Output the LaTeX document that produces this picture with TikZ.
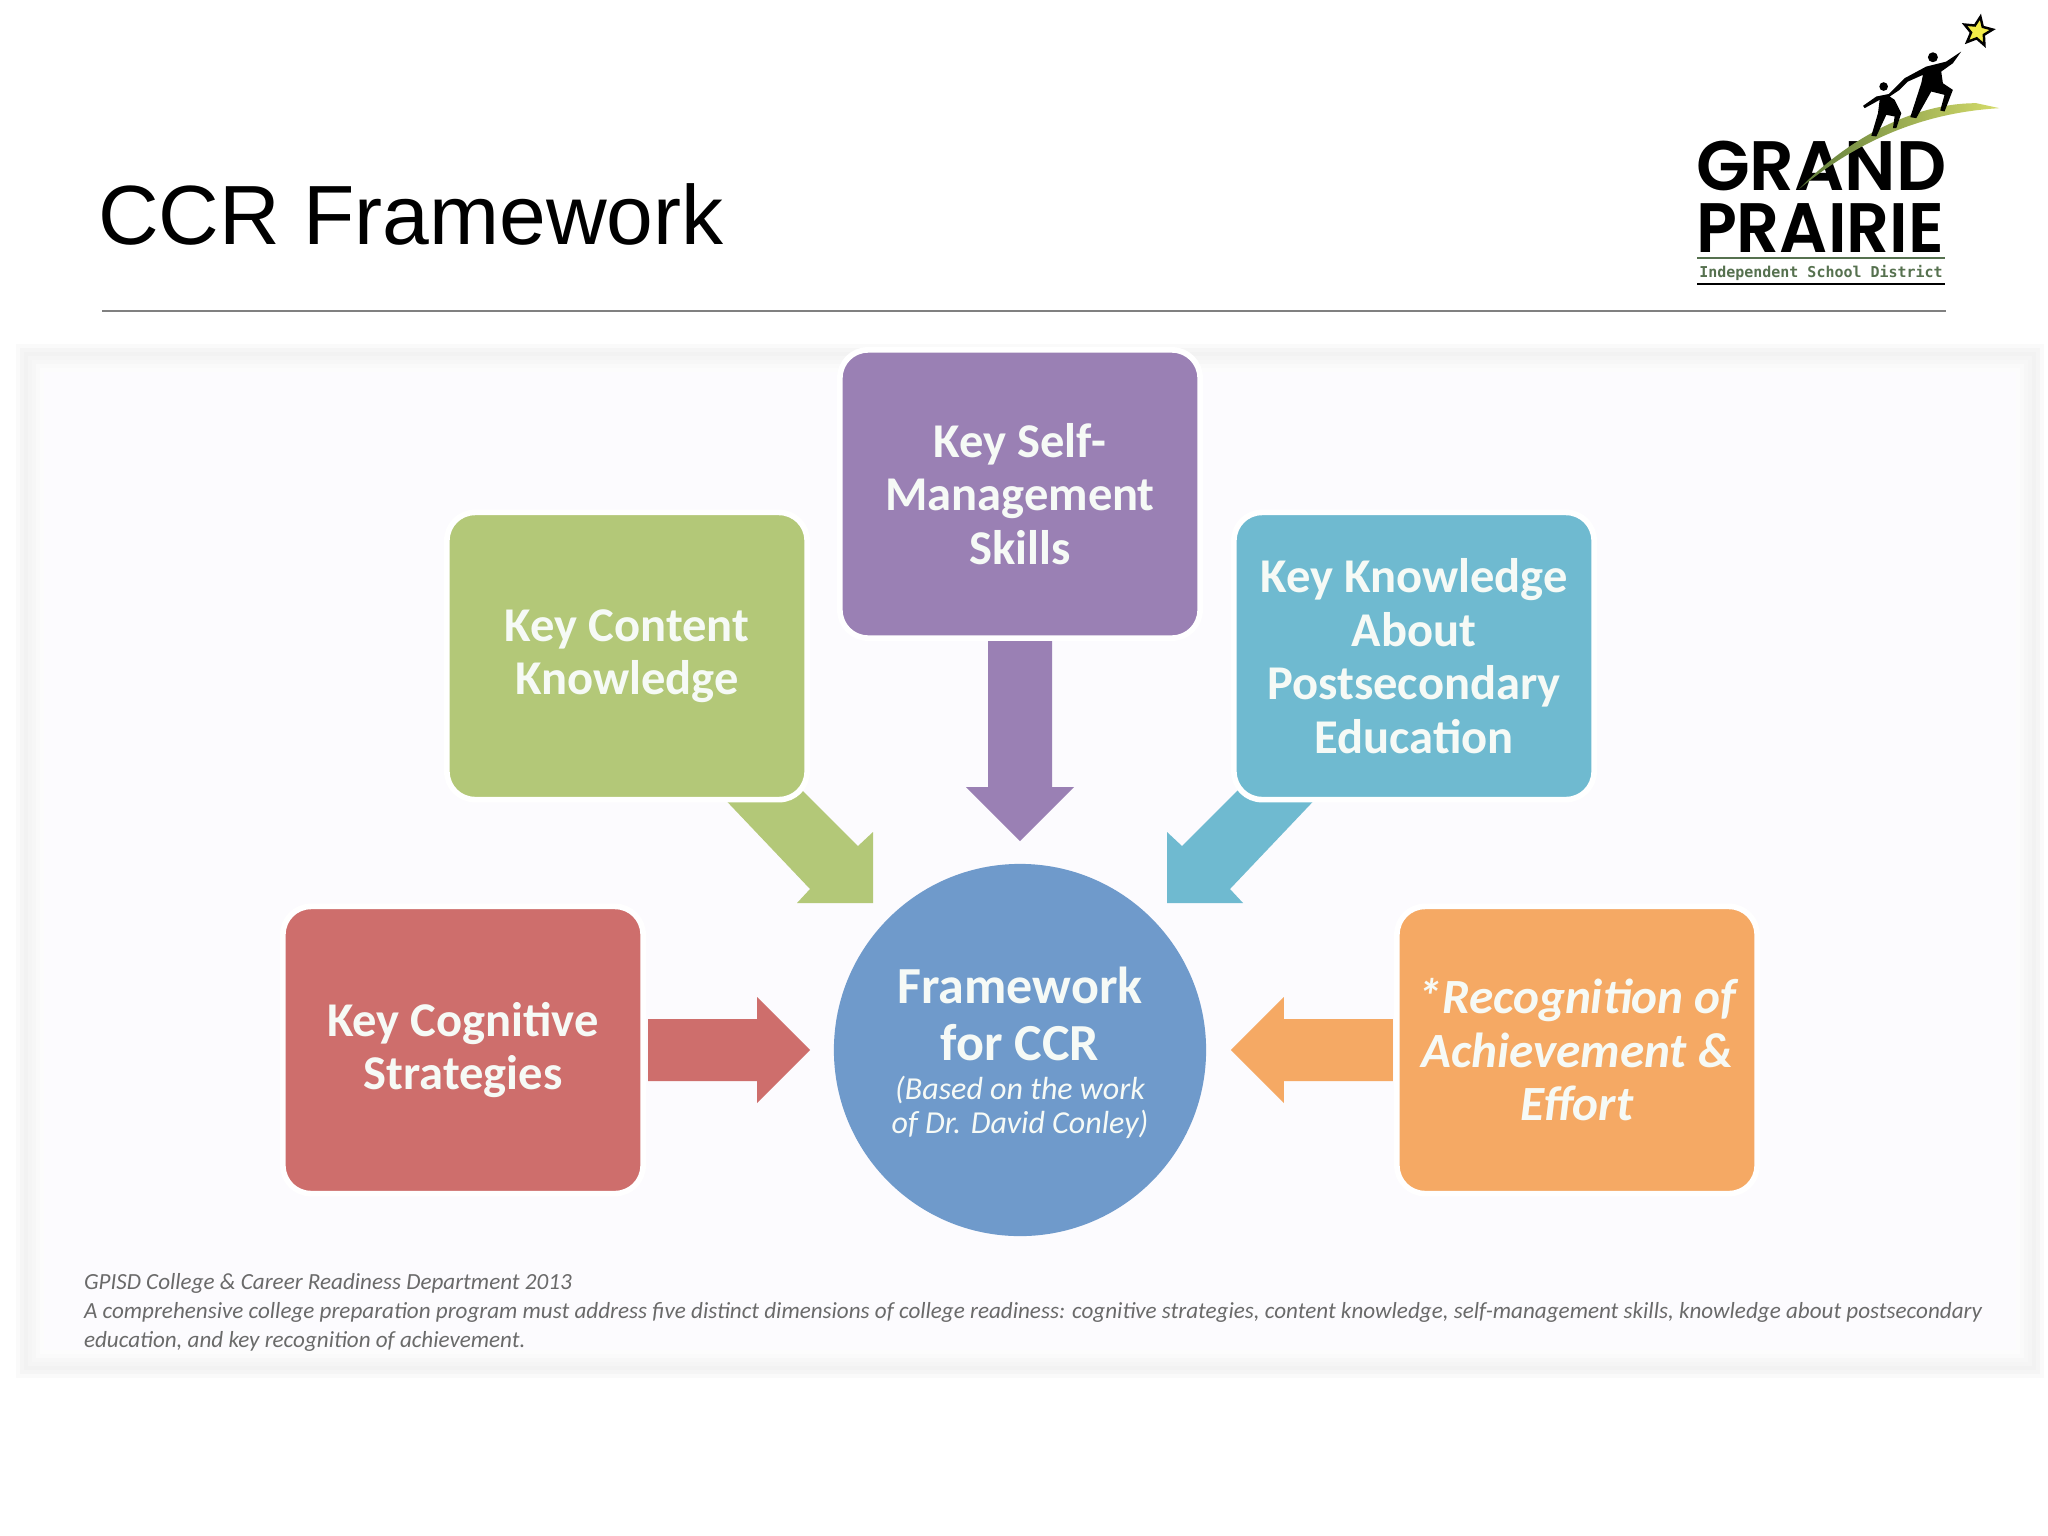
\documentclass[tikz,border=0pt]{standalone}
\usepackage{fontspec}
\setmainfont{Carlito}
\newfontfamily\titlefont{Liberation Sans}
\newfontfamily\logofont[BoldFont={Poppins SemiBold}]{Poppins}
\newfontfamily\logosmallfont{DejaVu Sans Mono}
\usetikzlibrary{calc,shapes.geometric,backgrounds}

\definecolor{panelTint}{HTML}{FCFBFE}
\definecolor{greenBox}{HTML}{B3C878}
\definecolor{purpleBox}{HTML}{9A80B4}
\definecolor{tealBox}{HTML}{6FBAD0}
\definecolor{redBox}{HTML}{CE6E6C}
\definecolor{orangeBox}{HTML}{F5A964}
\definecolor{blueCircle}{HTML}{6F9ACB}
\definecolor{paleText}{HTML}{F6FAF6}
\definecolor{noteText}{HTML}{6A6A6A}
\definecolor{logoGreen}{HTML}{56714F}
\definecolor{swooshDark}{HTML}{5E7B3A}
\definecolor{swooshPale}{HTML}{D5DC6A}
\definecolor{starYellow}{HTML}{F2EC48}

\begin{document}
\begin{tikzpicture}[
		x=.01cm, y=-.01cm,
		every node/.style={inner sep=0pt, outer sep=0pt},
		]
		\tikzset{
			keyBox/.style={rectangle, rounded corners=.28cm, minimum width=3.6cm, minimum height=2.87cm,
				draw=white, line width=1.6pt, align=center, text=paleText, font=\fontsize{13.8}{15.2}\selectfont\bfseries},
			noteLine/.style={anchor=west, text=noteText, font=\fontsize{6.57}{8}\selectfont\itshape},
		}
		\useasboundingbox (0,0) rectangle (2048,1536);

		% panel with its soft edge
		\begin{scope}[on background layer]
			\fill[white] (0,0) rectangle (2048,1536);
			\foreach \Inset/\Shade in {0/2,4/4,8/5,12/4,16/3,20/2,24/1.2}{
				\fill[black!\Shade] (16+\Inset,344+\Inset) rectangle (2044-\Inset,1378-\Inset);
			}
			\fill[panelTint] (44,372) rectangle (2016,1350);
		\end{scope}

		% title and rule
		\node[anchor=base west, font=\titlefont\fontsize{23.9}{30}\selectfont] (title) at (98,244) {CCR Framework};
		\draw[gray, line width=.45pt] (102,311) -- (1946,311);

		\node[keyBox, fill=purpleBox, minimum height=2.88cm] (selfskills) at (1020,494) {Key Self-\\Management\\Skills};
		\node[keyBox, fill=greenBox] (content) at (627,656) {Key Content\\Knowledge};
		\node[keyBox, fill=tealBox] (postsec) at (1414,656) {Key Knowledge\\About\\Postsecondary\\Education};
		\node[keyBox, fill=redBox] (cognitive) at (463,1050) {Key Cognitive\\Strategies};
		\node[keyBox, fill=orangeBox, font=\fontsize{14}{15.2}\selectfont\bfseries\itshape] (effort) at (1577,1050) {*Recognition of\\Achievement \&\\Effort};
		\node[circle, fill=blueCircle, minimum size=3.72cm] (ccr) at (1020,1050) {};
		\node[align=center, text=paleText, font=\fontsize{14.8}{16.3}\selectfont\bfseries] (ccrname) at (1020,1014) {Framework\\for CCR};
		\node[align=center, text=paleText, font=\fontsize{9.1}{9.7}\selectfont\itshape] (ccrsource) at (1020,1107) {(Based on the work\\of Dr. David Conley)};

		% arrows go behind the white edge of the boxes
		\begin{scope}[on background layer]
			\fill[purpleBox] ($(selfskills.south)+(-32,3)$) -- ($(selfskills.south)+(32,3)$) -- ($(selfskills.south)+(32,149)$)
				-- ($(selfskills.south)+(54,149)$) -- ($(selfskills.south)+(0,203)$) -- ($(selfskills.south)+(-54,149)$)
				-- ($(selfskills.south)+(-32,149)$) -- cycle;
			\fill[redBox] ($(cognitive.east)+(5,-31)$) -- ($(cognitive.east)+(114,-31)$) -- ($(cognitive.east)+(114,-53)$)
				-- ($(cognitive.east)+(167,0)$) -- ($(cognitive.east)+(114,53)$) -- ($(cognitive.east)+(114,31)$)
				-- ($(cognitive.east)+(5,31)$) -- cycle;
			\fill[orangeBox] ($(effort.west)+(-4,-31)$) -- ($(effort.west)+(-113,-31)$) -- ($(effort.west)+(-113,-53)$)
				-- ($(effort.west)+(-166,0)$) -- ($(effort.west)+(-113,53)$) -- ($(effort.west)+(-113,31)$)
				-- ($(effort.west)+(-4,31)$) -- cycle;
			\fill[greenBox] (716,790) -- (790,778) -- (858,846) -- (873,832) -- (873,903) -- (797,903) -- (810,889) -- cycle;
			\fill[tealBox] (1324,790) -- (1250,778) -- (1182,846) -- (1167,832) -- (1167,903) -- (1243,903) -- (1230,889) -- cycle;
		\end{scope}

		% note under the diagram
		\node[noteLine] (noteone) at (84,1283) {GPISD College \& Career Readiness Department 2013};
		\node[noteLine] (notetwo) at (84,1312) {A comprehensive college preparation program must address five distinct dimensions of college readiness: cognitive strategies, content knowledge, self-management skills, knowledge about postsecondary};
		\node[noteLine] (notethree) at (84,1341) {education, and key recognition of achievement.};

		% logo, in its own coordinates
		\node[anchor=base west, font=\logofont\fontsize{19.9}{24}\selectfont\bfseries] (grand) at (1696,190) {GRAND};
		\node[anchor=base west, font=\logofont\fontsize{19.9}{24}\selectfont\bfseries, xscale=.96] (prairie) at (1696,252) {PRAIRIE};
		\node[anchor=base, text=logoGreen, font=\logosmallfont\fontsize{4.26}{6}\selectfont\bfseries] (district) at (1821,277) {Independent School District};
		\draw[logoGreen, line width=.5pt] (1697,258) -- (1945,258);
		\draw[black, line width=.6pt] (1697,284) -- (1945,284);
		\begin{scope}[shift={(1660,0)}, x=.00333cm, y=-.00333cm]
			\shade[left color=swooshDark, right color=swooshPale]
				(418,568) .. controls (560,420) and (760,310) .. (950,310) -- (1020,325)
				.. controls (850,335) and (640,385) .. (418,568) -- cycle;
			\fill[black] (820,172) circle (15);
			\fill[black] (672,260) circle (13);
			\fill[black] (905,155) -- (880,190) -- (845,215) -- (850,250) -- (880,270) -- (855,335) -- (842,332) -- (855,285)
				-- (815,275) -- (770,355) -- (752,352) -- (785,250) -- (790,225) -- (745,245) -- (720,270) -- (690,290)
				-- (685,285) -- (735,235) -- (800,200) -- (860,185) -- cycle;
			\fill[black] (700,280) -- (690,290) -- (705,300) -- (725,340) -- (710,385) -- (700,385) -- (705,350) -- (680,345)
				-- (650,410) -- (635,408) -- (655,340) -- (660,300) -- (615,325) -- (610,318) -- (650,290) -- cycle;
			\node[star, star points=5, star point ratio=2.2, minimum size=.3cm, fill=starYellow, draw=black, line width=.7pt, rotate=-10] (goldstar) at (955,95) {};
		\end{scope}
	\end{tikzpicture}
\end{document}
